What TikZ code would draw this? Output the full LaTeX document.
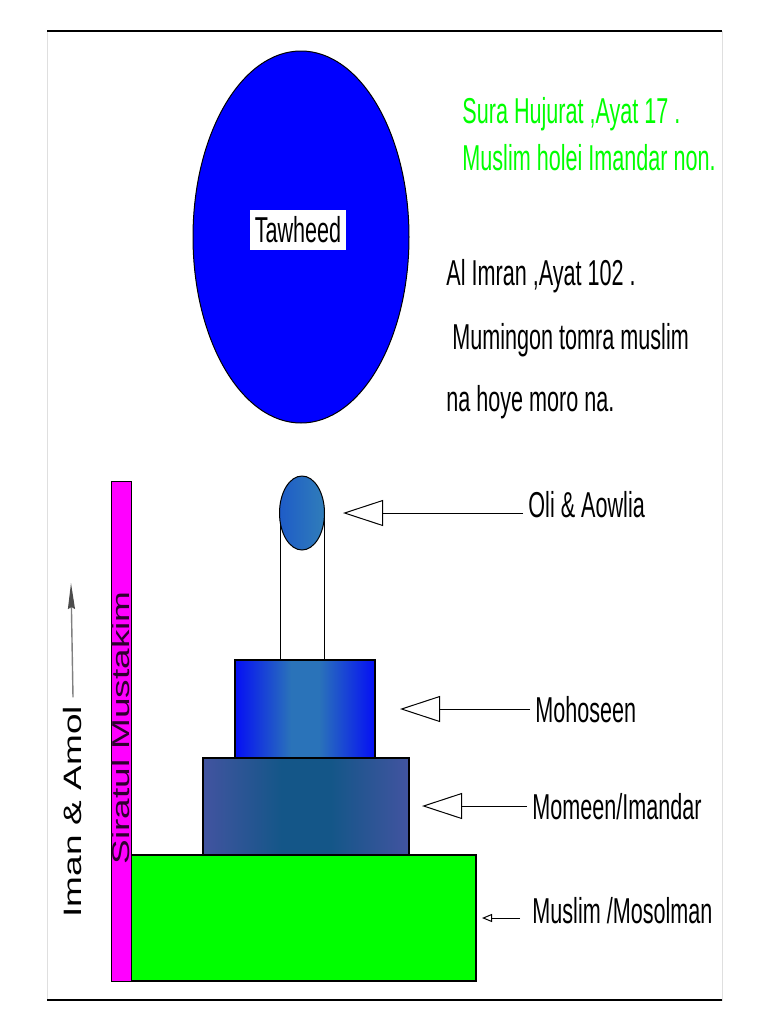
\documentclass[tikz,border=0pt]{standalone}
\usepackage{fontspec}
\setmainfont{Liberation Sans}[FakeStretch=0.6]
\newfontfamily\uprightfont{Liberation Sans}
\usetikzlibrary{positioning,arrows.meta,shapes.geometric}

\definecolor{puregreen}{RGB}{0,255,0}
\definecolor{pureblue}{RGB}{0,0,255}
\definecolor{pinkbar}{RGB}{255,0,255}
\definecolor{barink}{RGB}{45,0,45}
\definecolor{oliblueA}{RGB}{30,92,200}
\definecolor{oliblueB}{RGB}{48,125,185}
\definecolor{mohedge}{RGB}{5,15,245}
\definecolor{mohmid}{RGB}{42,115,185}
\definecolor{momedge}{RGB}{66,84,160}
\definecolor{mommid}{RGB}{20,86,136}

\pgfdeclarehorizontalshading{mohshade}{100bp}{color(0bp)=(mohedge); color(25bp)=(mohedge);
  color(45bp)=(mohmid); color(55bp)=(mohmid); color(75bp)=(mohedge); color(100bp)=(mohedge)}
\pgfdeclarehorizontalshading{momshade}{100bp}{color(0bp)=(momedge); color(25bp)=(momedge);
  color(44bp)=(mommid); color(56bp)=(mommid); color(75bp)=(momedge); color(100bp)=(momedge)}

\tikzset{
  txt/.style = {inner sep=0pt, anchor=base west, font=\fontsize{18}{20}\selectfont},
  tier/.style = {draw, line width=0.6pt, inner sep=0pt},
  bigtip/.style = {draw, line width=0.5pt, shorten <=2.5pt, -{Triangle[open, length=20pt, width=13pt]}},
  smalltip/.style = {draw, line width=0.5pt, shorten <=6pt, -{Triangle[open, length=5pt, width=4pt]}},
}

\begin{document}
\begin{tikzpicture}[x=0.5pt, y=-0.5pt]
  \useasboundingbox (0,0) rectangle (768,1024);
  % page frame
  \draw[gray!25, line width=0.5pt] (47,31) rectangle (722,1000);
  \draw[line width=0.8pt] (47,31) -- (722,31);
  \draw[line width=0.8pt] (47,1000) -- (722,1000);

  % Tawheed
  \draw[fill=pureblue, line width=0.5pt] (301,237) ellipse [x radius=108, y radius=186];
  \node (tawheed) [fill=white, inner xsep=2.5pt, inner ysep=3.5pt, font=\fontsize{18}{20}\selectfont]
        at (298,230) {Tawheed};

  % ayat texts
  \node (sura)   [txt, text=puregreen] at (462,123) {Sura Hujurat ,Ayat 17 .};
  \node (sura2)  [txt, text=puregreen] at (462,170) {Muslim holei Imandar non.};
  \node (imran)  [txt] at (446,285) {Al Imran ,Ayat 102 .};
  \node (imran2) [txt] at (446,349) {\ Mumingon tomra muslim};
  \node (imran3) [txt] at (446,411) {na hoye moro na.};

  % stairs
  \draw[line width=0.5pt] (280,513) -- (280,660);
  \draw[line width=0.5pt] (324,513) -- (324,660);
  \node (muslim) [tier, fill=puregreen, minimum width=172.5pt, minimum height=63pt] at (303.5,918) {};
  \node (momeen) [tier, shading=momshade, minimum width=103pt, minimum height=48.5pt] at (306,806.5) {};
  \node (mohoseen) [tier, shading=mohshade, minimum width=70pt, minimum height=49pt] at (305,709) {};
  \node (oli) [draw, ellipse, line width=0.5pt, left color=oliblueA, right color=oliblueB,
               minimum width=22.5pt, minimum height=37pt, inner sep=0pt] at (302,513) {};

  % side bar
  \node (bar) [draw, fill=pinkbar, line width=0.5pt, minimum width=10pt, minimum height=250pt,
               inner sep=0pt] at (121,731) {};
  \node (sirat) [inner sep=0pt, anchor=base west, rotate=90, text=barink,
                 font=\uprightfont\fontsize{18.5}{20}\selectfont] at (129,865)
        {\scalebox{1}[0.66]{Siratul Mustakim}};
  \node (iman) [inner sep=0pt, anchor=base west, rotate=90,
                font=\uprightfont\fontsize{18.5}{20}\selectfont] at (82,918)
        {\scalebox{1}[0.68]{Iman \& Amol}};
  \coordinate (imanTop) at (71,583);
  \draw[gray, line width=0.7pt, -{Stealth[length=13pt, width=3.5pt, inset=1pt, black!70]}]
        ([yshift=4pt]iman.east) -- (imanTop);

  % labels with arrows
  \node (oliLbl)  [txt] at (528,517) {Oli \& Aowlia};
  \node (mohLbl)  [txt] at (535,722) {Mohoseen};
  \node (momLbl)  [txt] at (532,819) {Momeen/Imandar};
  \node (musLbl)  [txt] at (532,923) {Muslim /Mosolman};

  \coordinate (oliTip) at (343,513);
  \coordinate (mohTip) at (400,709);
  \coordinate (momTip) at (422,806);
  \coordinate (musTip) at (482,918);
  \draw[bigtip] (oliLbl.west |- oliTip) -- (oliTip);
  \draw[bigtip] (mohLbl.west |- mohTip) -- (mohTip);
  \draw[bigtip] (momLbl.west |- momTip) -- (momTip);
  \draw[smalltip] (musLbl.west |- musTip) -- (musTip);
\end{tikzpicture}
\end{document}
